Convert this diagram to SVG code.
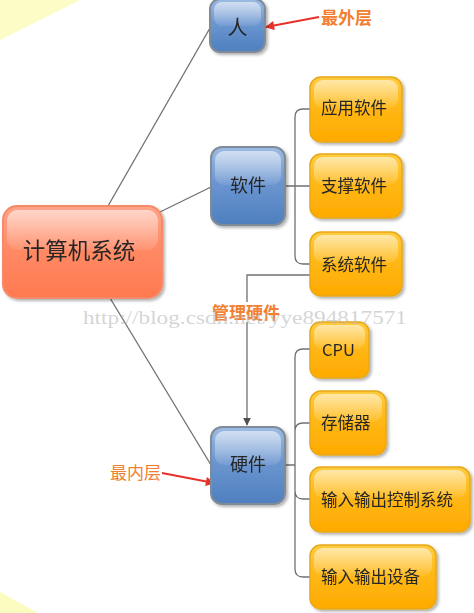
<svg xmlns="http://www.w3.org/2000/svg" width="474" height="613" viewBox="0 0 474 613">
<defs>
<linearGradient id="gBlue" x1="0" y1="0" x2="0" y2="1">
<stop offset="0" stop-color="#9dbbe3"/>
<stop offset="0.45" stop-color="#6b96d0"/>
<stop offset="1" stop-color="#4f7fbf"/>
</linearGradient>
<linearGradient id="gOrange" x1="0" y1="0" x2="0" y2="1">
<stop offset="0" stop-color="#ffa58a"/>
<stop offset="0.45" stop-color="#ff8a66"/>
<stop offset="1" stop-color="#ff7a50"/>
</linearGradient>
<linearGradient id="gYellow" x1="0" y1="0" x2="0" y2="1">
<stop offset="0" stop-color="#ffcc40"/>
<stop offset="0.45" stop-color="#ffb816"/>
<stop offset="1" stop-color="#ffaa00"/>
</linearGradient>
<linearGradient id="gHi" x1="0" y1="0" x2="0" y2="1">
<stop offset="0" stop-color="#ffffff" stop-opacity="0.55"/>
<stop offset="1" stop-color="#ffffff" stop-opacity="0.08"/>
</linearGradient>
<filter id="sh" x="-10%" y="-10%" width="130%" height="130%">
<feDropShadow dx="2" dy="2" stdDeviation="1.5" flood-color="#000" flood-opacity="0.3"/>
</filter>
<marker id="arrGray" viewBox="0 0 10 10" refX="9" refY="5" markerWidth="8" markerHeight="10" markerUnits="userSpaceOnUse" orient="auto">
<path d="M0,0 L10,5 L0,10 Z" fill="#505050"/>
</marker>
<marker id="arrRed" viewBox="0 0 10 10" refX="9" refY="5" markerWidth="12" markerHeight="9" markerUnits="userSpaceOnUse" orient="auto">
<path d="M0,0 L10,5 L0,10 Z" fill="#e8302a"/>
</marker>
</defs>
<style>
.conn{fill:none;stroke:#707070;stroke-width:1.3}
.red{fill:none;stroke:#e8302a;stroke-width:1.8}
.blue{fill:url(#gBlue);stroke:#7f8c98;stroke-width:2}
.orange{fill:url(#gOrange);stroke:#f58a6a;stroke-width:2}
.yellow{fill:url(#gYellow);stroke:#e8a818;stroke-width:1.5}
.hi{fill:url(#gHi)}
.t{font-family:"Noto Sans CJK SC","Liberation Sans",sans-serif;fill:#262626;dominant-baseline:central}
.lbl{font-family:"Noto Sans CJK SC",sans-serif;fill:#f28030;dominant-baseline:central;font-size:17px}
</style>
<rect width="474" height="613" fill="#ffffff"/>
<polygon points="0,0 80,0 0,40" fill="#fcfcc6"/>
<polygon points="0,592 38,613 0,613" fill="#fcfcc0"/>

<g id="connectors">
<path class="conn" d="M108,206 L210,28"/>
<path class="conn" d="M160,212 L211,187"/>
<path class="conn" d="M110,298 L211,465"/>
<path class="conn" d="M285,186 H310 M295,186 V117 Q295,109 303,109 H310 M295,186 V256 Q295,264 303,264 H310"/>
<path class="conn" d="M310,275 H247 V425" marker-end="url(#arrGray)"/>
<path class="conn" d="M285,465 H295 M295,465 V357 Q295,349 303,349 H310 M295,465 V431 Q295,423 303,423 H310 M295,465 V491 Q295,499 303,499 H310 M295,465 V569 Q295,577 303,577 H310"/>
<path class="red" d="M319,17 L266,27" marker-end="url(#arrRed)"/>
<path class="red" d="M162,473 L214,483" marker-end="url(#arrRed)"/>
</g>

<g id="node-ren" filter="url(#sh)">
<rect class="blue" x="210" y="-1" width="55" height="53" rx="10"/>
<rect class="hi" x="214" y="2" width="47" height="24" rx="8"/>
<text class="t" x="237.5" y="26" font-size="20" text-anchor="middle">人</text>
</g>
<g id="node-ruanjian" filter="url(#sh)">
<rect class="blue" x="211" y="147" width="74" height="78" rx="11"/>
<rect class="hi" x="215" y="151" width="66" height="34" rx="9"/>
<text class="t" x="248" y="184" font-size="18" text-anchor="middle">软件</text>
</g>
<g id="node-yingjian" filter="url(#sh)">
<rect class="blue" x="211" y="427" width="74" height="77" rx="11"/>
<rect class="hi" x="215" y="431" width="66" height="34" rx="9"/>
<text class="t" x="248" y="463" font-size="18" text-anchor="middle">硬件</text>
</g>
<g id="node-jisuanji" filter="url(#sh)">
<rect class="orange" x="3" y="206" width="159" height="92" rx="14"/>
<rect class="hi" x="7" y="210" width="151" height="40" rx="11"/>
<text class="t" x="79" y="249" font-size="22.5" text-anchor="middle">计算机系统</text>
</g>
<g id="node-yingyong" filter="url(#sh)">
<rect class="yellow" x="310" y="77" width="92" height="65" rx="11"/>
<rect class="hi" x="314" y="80" width="84" height="28" rx="9"/>
<text class="t" x="321" y="107" font-size="16.5">应用软件</text>
</g>
<g id="node-zhicheng" filter="url(#sh)">
<rect class="yellow" x="310" y="154" width="92" height="64" rx="11"/>
<rect class="hi" x="314" y="157" width="84" height="28" rx="9"/>
<text class="t" x="321" y="185" font-size="16.5">支撑软件</text>
</g>
<g id="node-xitong" filter="url(#sh)">
<rect class="yellow" x="310" y="232" width="92" height="64" rx="11"/>
<rect class="hi" x="314" y="235" width="84" height="28" rx="9"/>
<text class="t" x="321" y="264" font-size="16.5">系统软件</text>
</g>
<g id="node-cpu" filter="url(#sh)">
<rect class="yellow" x="310" y="322" width="59" height="56" rx="10"/>
<rect class="hi" x="314" y="325" width="51" height="24" rx="8"/>
<text class="t" x="322" y="349" font-size="16.5" font-family="Liberation Sans, sans-serif">CPU</text>
</g>
<g id="node-cunchuqi" filter="url(#sh)">
<rect class="yellow" x="310" y="391" width="76" height="64" rx="11"/>
<rect class="hi" x="314" y="394" width="68" height="28" rx="9"/>
<text class="t" x="321" y="422" font-size="16.5">存储器</text>
</g>
<g id="node-kongzhi" filter="url(#sh)">
<rect class="yellow" x="310" y="467" width="160" height="65" rx="11"/>
<rect class="hi" x="314" y="470" width="152" height="28" rx="9"/>
<text class="t" x="321" y="499" font-size="16.5">输入输出控制系统</text>
</g>
<g id="node-shebei" filter="url(#sh)">
<rect class="yellow" x="310" y="545" width="126" height="64" rx="11"/>
<rect class="hi" x="314" y="548" width="118" height="28" rx="9"/>
<text class="t" x="321" y="576" font-size="16.5">输入输出设备</text>
</g>

<g id="labels">
<text class="lbl" x="321" y="16" font-weight="bold">最外层</text>
<text class="lbl" x="110" y="471">最内层</text>
<rect x="211" y="302" width="71" height="20" fill="#ffffff"/>
<text class="lbl" x="246" y="311" font-weight="bold" text-anchor="middle">管理硬件</text>
</g>
<text x="83" y="324" font-family="Liberation Serif, serif" font-size="19" fill="#b8b8b8" fill-opacity="0.6" textLength="324" lengthAdjust="spacingAndGlyphs">http://blog.csdn.net/yye894817571</text>
</svg>
